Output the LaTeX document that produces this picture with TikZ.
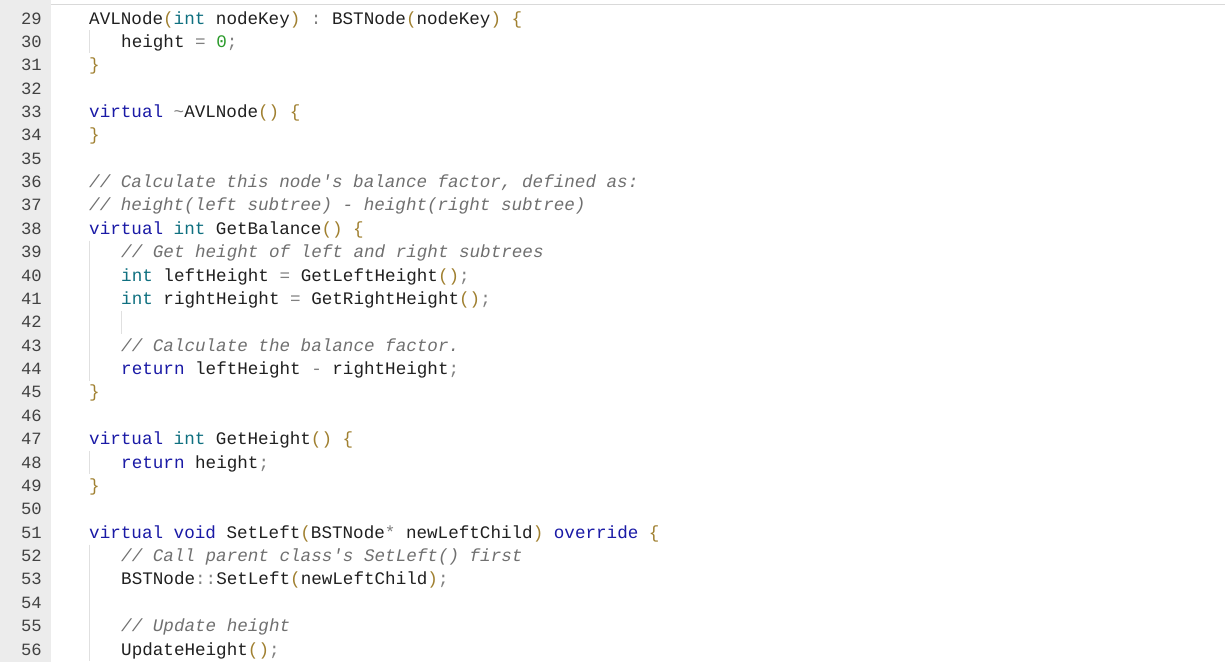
\documentclass[tikz,border=0pt]{standalone}
\usepackage{fontspec}
\setmonofont{Liberation Mono}
\definecolor{kwc}{HTML}{1A1AA6}
\definecolor{tyc}{HTML}{0F7080}
\definecolor{brc}{HTML}{A08030}
\definecolor{opc}{HTML}{808080}
\definecolor{nmc}{HTML}{2A9A2A}
\definecolor{cmc}{HTML}{707070}
\definecolor{txc}{HTML}{202020}
\definecolor{gut}{HTML}{ECECEC}
\newcommand{\kw}[1]{\textcolor{kwc}{#1}}
\newcommand{\ty}[1]{\textcolor{tyc}{#1}}
\newcommand{\br}[1]{\textcolor{brc}{#1}}
\newcommand{\op}[1]{\textcolor{opc}{#1}}
\newcommand{\nm}[1]{\textcolor{nmc}{#1}}
\newcommand{\cm}[1]{\textcolor{cmc}{\itshape #1}}
\begin{document}
\begin{tikzpicture}[x=1pt,y=-1pt,
  code/.style={anchor=base west,inner sep=0pt,font=\ttfamily\fontsize{17.6}{20}\selectfont,text=txc},
  lnum/.style={anchor=base east,inner sep=0pt,font=\ttfamily\fontsize{17.2}{20}\selectfont,text=txc!85},
  guide/.style={draw=black!12,line width=0.8pt}]
\useasboundingbox (0,0) rectangle (1225,662);
\fill[white] (0,0) rectangle (1225,662);
\fill[gut] (0,0) rectangle (51,662);
\draw[black!15] (51,4.5) -- (1225,4.5);
\def\L#1{\fpeval{24+(#1-29)*23.37}}
\foreach \n in {29,...,56}{
  \node[lnum] (n\n) at (42,{\L{\n}}) {\n};
}
% indent guides
\foreach \a/\b in {30/30,39/44,48/48,52/56}{
  \draw[guide] (89,{\L{\a}-17}) -- (89,{\L{\b}+6});
}
\draw[guide] (121,{\L{42}-17}) -- (121,{\L{42}+6});
\def\A{89}\def\B{121}
\node[code] (c29) at (\A,{\L{29}}) {AVLNode\br{(}\ty{int} nodeKey\br{)} \op{:} BSTNode\br{(}nodeKey\br{)} \br{\{}};
\node[code] (c30) at (\B,{\L{30}}) {height \op{=} \nm{0}\op{;}};
\node[code] (c31) at (\A,{\L{31}}) {\br{\}}};
\node[code] (c33) at (\A,{\L{33}}) {\kw{virtual} \op{\string~}AVLNode\br{()} \br{\{}};
\node[code] (c34) at (\A,{\L{34}}) {\br{\}}};
\node[code] (c36) at (\A,{\L{36}}) {\cm{// Calculate this node's balance factor, defined as:}};
\node[code] (c37) at (\A,{\L{37}}) {\cm{// height(left subtree) - height(right subtree)}};
\node[code] (c38) at (\A,{\L{38}}) {\kw{virtual} \ty{int} GetBalance\br{()} \br{\{}};
\node[code] (c39) at (\B,{\L{39}}) {\cm{// Get height of left and right subtrees}};
\node[code] (c40) at (\B,{\L{40}}) {\ty{int} leftHeight \op{=} GetLeftHeight\br{()}\op{;}};
\node[code] (c41) at (\B,{\L{41}}) {\ty{int} rightHeight \op{=} GetRightHeight\br{()}\op{;}};
\node[code] (c43) at (\B,{\L{43}}) {\cm{// Calculate the balance factor.}};
\node[code] (c44) at (\B,{\L{44}}) {\kw{return} leftHeight \op{-} rightHeight\op{;}};
\node[code] (c45) at (\A,{\L{45}}) {\br{\}}};
\node[code] (c47) at (\A,{\L{47}}) {\kw{virtual} \ty{int} GetHeight\br{()} \br{\{}};
\node[code] (c48) at (\B,{\L{48}}) {\kw{return} height\op{;}};
\node[code] (c49) at (\A,{\L{49}}) {\br{\}}};
\node[code] (c51) at (\A,{\L{51}}) {\kw{virtual} \kw{void} SetLeft\br{(}BSTNode\op{*} newLeftChild\br{)} \kw{override} \br{\{}};
\node[code] (c52) at (\B,{\L{52}}) {\cm{// Call parent class's SetLeft() first}};
\node[code] (c53) at (\B,{\L{53}}) {BSTNode\op{::}SetLeft\br{(}newLeftChild\br{)}\op{;}};
\node[code] (c55) at (\B,{\L{55}}) {\cm{// Update height}};
\node[code] (c56) at (\B,{\L{56}}) {UpdateHeight\br{()}\op{;}};
\end{tikzpicture}
\end{document}
